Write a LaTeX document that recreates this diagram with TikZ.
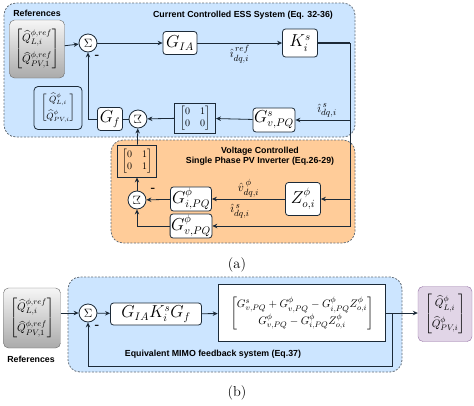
\documentclass[tikz,border=0pt]{standalone}
\usepackage{amsmath}
\usepackage{fontspec}
\newfontfamily\labelfont{Liberation Sans}
\usetikzlibrary{arrows.meta,calc}
\definecolor{EssBlue}{RGB}{204,229,255}
\definecolor{PvOrange}{RGB}{255,204,153}
\definecolor{RegionEdge}{RGB}{100,110,120}
\definecolor{LineDark}{RGB}{28,42,56}
\definecolor{RefTop}{RGB}{246,246,246}
\definecolor{RefBottom}{RGB}{170,170,170}
\definecolor{RefEdge}{RGB}{102,102,102}
\definecolor{OutPurple}{RGB}{225,213,231}
\definecolor{OutEdge}{RGB}{150,115,166}

\begin{document}
\begin{tikzpicture}[x=1pt,y=-1pt,
  region/.style={draw=RegionEdge,dash pattern=on 2pt off 1.5pt,line width=0.8pt,rounded corners=12pt},
  blk/.style={draw=LineDark,fill=white,rounded corners=3pt,line width=0.8pt,inner sep=1pt,font=\fontsize{16}{18}\selectfont},
  mat/.style={draw=LineDark,line width=0.8pt,inner sep=1pt,font=\fontsize{10}{12}\selectfont},
  sumc/.style={circle,draw=LineDark,fill=white,line width=0.8pt,minimum size=18pt,inner sep=0pt,font=\large},
  refbox/.style={draw=RefEdge,rounded corners=5pt,top color=RefTop,bottom color=RefBottom,inner sep=1pt,font=\fontsize{11}{13}\selectfont},
  lbl/.style={font=\fontsize{13}{15}\selectfont,inner sep=1pt},
  ln/.style={draw=LineDark,line width=0.8pt},
  arr/.style={ln,-{Stealth[length=5pt,width=4.5pt]}},
  ttl/.style={font=\labelfont\bfseries\fontsize{8.8}{10.5}\selectfont,align=center},
  minus/.style={font=\bfseries\large,inner sep=0pt}]
  \useasboundingbox (0,0) rectangle (474,405);

  % (a) regions
  \draw[region,fill=EssBlue] (4,3) rectangle (355,137);
  \draw[region,fill=PvOrange] (111,140) rectangle (355,243);
  \node[ttl] (essTitle) at (243,15) {Current Controlled ESS System (Eq. 32-36)};
  \node[ttl] (pvTitle) at (260,156) {Voltage Controlled\\Single Phase PV Inverter (Eq.26-29)};

  % (a) blocks
  \node[refbox,minimum width=55pt,minimum height=58pt] (refA) at (37,49)
    {$\begin{bmatrix}\widehat{Q}^{\phi,ref}_{L,i}\\[7pt]\widehat{Q}^{\phi,ref}_{PV,1}\end{bmatrix}$};
  \node[ttl] (refALbl) at (37,13) {References};
  \node[sumc] (sA1) at (88,43) {$\Sigma$};
  \node[blk,minimum width=34pt,minimum height=23pt] (gIA) at (180,43) {$G_{IA}$};
  \node[blk,minimum width=35pt,minimum height=28pt] (kS) at (300,43) {$K^{s}_{i}$};
  \node[blk,minimum width=42pt,minimum height=24pt] (gvs) at (274,120) {$G^{s}_{v,PQ}$};
  \node[mat,minimum width=41pt,minimum height=30pt] (m00) at (195,118)
    {$\begin{bmatrix}0&1\\0&0\end{bmatrix}$};
  \node[sumc] (sA2) at (138,119) {\scalebox{-1}[1]{$\Sigma$}};
  \node[blk,minimum width=25pt,minimum height=23pt] (gF) at (110,119) {$G_{f}$};
  \node[draw=LineDark,rounded corners=4pt,line width=0.8pt,minimum width=48pt,minimum height=43pt,inner sep=0pt,font=\small] (qA) at (58,108)
    {$\begin{bmatrix}\widehat{Q}^{\phi}_{L,i}\\[5pt]\widehat{Q}^{\phi}_{PV,i}\end{bmatrix}$};
  \node[mat,minimum width=39pt,minimum height=32pt] (m01) at (137,161)
    {$\begin{bmatrix}0&1\\0&1\end{bmatrix}$};
  \node[sumc] (sA3) at (137,200) {\scalebox{-1}[1]{$\Sigma$}};
  \node[blk,minimum width=41pt,minimum height=24pt] (gip) at (191,199) {$G^{\phi}_{i,PQ}$};
  \node[blk,minimum width=41pt,minimum height=22pt] (gvp) at (191,226) {$G^{\phi}_{v,PQ}$};
  \node[blk,minimum width=35pt,minimum height=33pt] (zo) at (303,199) {$Z^{\phi}_{o,i}$};
  \coordinate (rTop) at (350,43);
  \coordinate (rBot) at (350,227);

  % (a) connectors
  \draw[arr] (refA) -- (sA1);
  \draw[arr] (sA1) -- (gIA);
  \draw[arr] (gIA) -- (kS) node[lbl,midway,below=1pt] (iRef) {$\hat{\imath}^{\,ref}_{dq,i}$};
  \draw[ln,line width=1.4pt] (kS.east) -- (rTop);
  \draw[ln] (rTop) -- (rBot);
  \draw[arr] (rTop |- gvs) -- (gvs.east) node[lbl,pos=0.42,above=1pt] (iS1) {$\hat{\imath}^{\,s}_{dq,i}$};
  \draw[arr] (gvs) -- (m00);
  \draw[arr] (m00) -- (sA2);
  \draw[ln] (sA2) -- (gF);
  \draw[arr] (gF.west) -| (sA1.south);
  \node[minus] (mA1) at (97,57) {-};
  \draw[arr] (sA3) -- (m01);
  \draw[arr] (m01) -- (sA2);
  \draw[arr] (rTop |- zo) -- (zo.east);
  \draw[arr] (zo) -- (gip) node[lbl,midway,above=0pt] (vPhi) {$\hat{v}^{\,\phi}_{dq,i}$};
  \draw[arr] (gip) -- (sA3);
  \node[minus] (mA3) at (153,190) {-};
  \draw[arr] (rBot) -- (gvp.east -| rBot) -- (gvp.east);
  \node[lbl] (iS2) at (240,211) {$\hat{\imath}^{\,s}_{dq,i}$};
  \draw[arr] (gvp.west) -| (sA3.south);
  \node[font=\Large] (capA) at (237,265) {(a)};

  % (b) region
  \draw[region,fill=EssBlue] (68,277) rectangle (402,372);
  \node[ttl] (mimoTitle) at (213,354) {Equivalent MIMO feedback system (Eq.37)};

  % (b) blocks
  \node[refbox,minimum width=57pt,minimum height=60pt] (refB) at (32,318)
    {$\begin{bmatrix}\widehat{Q}^{\phi,ref}_{L,i}\\[7pt]\widehat{Q}^{\phi,ref}_{PV,1}\end{bmatrix}$};
  \node[ttl] (refBLbl) at (31,359) {References};
  \node[sumc] (sB) at (88,313) {$\Sigma$};
  \node[blk,minimum width=91pt,minimum height=22pt] (gB) at (156,314) {$G_{IA}K^{s}_{i}G_{f}$};
  \node[draw=LineDark,fill=white,line width=1.6pt,minimum width=167pt,minimum height=57pt,inner sep=1pt,font=\fontsize{11}{13}\selectfont] (mB) at (302,313)
    {$\begin{bmatrix}G^{s}_{v,PQ}+G^{\phi}_{v,PQ}-G^{\phi}_{i,PQ}Z^{\phi}_{o,i}\\[2pt] G^{\phi}_{v,PQ}-G^{\phi}_{i,PQ}Z^{\phi}_{o,i}\end{bmatrix}$};
  \node[draw=OutEdge,fill=OutPurple,rounded corners=5pt,minimum width=54pt,minimum height=55pt,inner sep=0pt,font=\fontsize{11}{13}\selectfont] (qB) at (445,314)
    {$\begin{bmatrix}\widehat{Q}^{\phi}_{L,i}\\[6pt]\widehat{Q}^{\phi}_{PV,i}\end{bmatrix}$};
  \coordinate (fbB) at (392,366);

  % (b) connectors
  \draw[arr] (refB.east |- sB) -- (sB);
  \draw[arr] (sB) -- (gB);
  \draw[arr] (gB) -- (mB);
  \draw[arr] (mB.east) -- (qB.west |- mB.east);
  \draw[arr] (mB.east -| fbB) -- (fbB) -| (sB.south);
  \node[minus] (mB1) at (97,327) {-};
  \node[font=\Large] (capB) at (237,393) {(b)};
\end{tikzpicture}
\end{document}
